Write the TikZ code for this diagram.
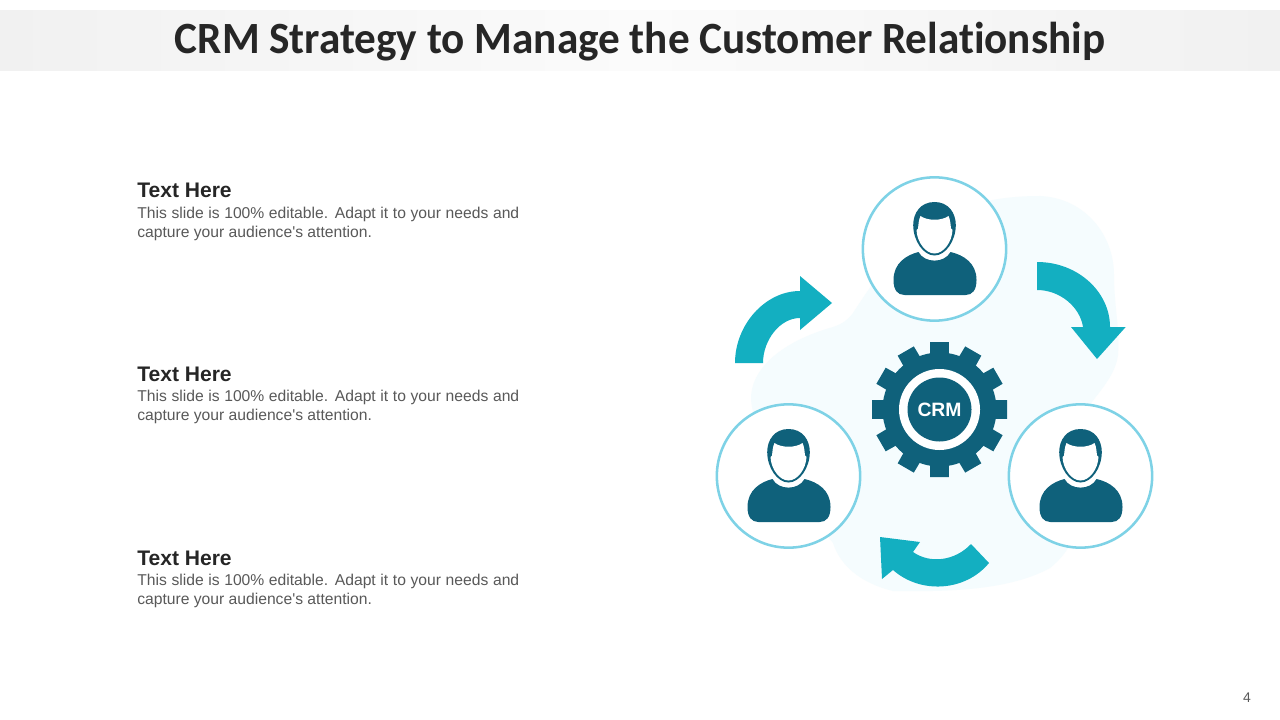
\documentclass[tikz,border=0pt]{standalone}
\usepackage{fontspec}
\newfontfamily\bodyfont{Liberation Sans}
\newfontfamily\titlefont[FakeStretch=0.967,Ligatures=NoCommon]{Carlito}
\setmainfont{Liberation Sans}
\definecolor{deepblue}{HTML}{0F617B}
\definecolor{tealarrow}{HTML}{13AFC1}
\definecolor{ringblue}{HTML}{7ED2E6}
\definecolor{blobtint}{HTML}{F5FCFE}
\definecolor{headdark}{HTML}{262626}
\definecolor{bodygray}{HTML}{595959}
\definecolor{bandedge}{HTML}{F1F1F1}
\definecolor{bandmid}{HTML}{FBFBFB}
\tikzset{
  ringnode/.style={circle,draw=ringblue,line width=1.9pt,fill=white,minimum size=107.5pt,inner sep=0pt,outer sep=0pt},
  headnode/.style={anchor=base west,inner sep=0pt,text=headdark,font=\bodyfont\fontsize{15.8}{18}\selectfont\bfseries},
  bodynode/.style={anchor=north west,inner sep=0pt,text=bodygray,text width=286.5pt,align=justify,font=\bodyfont\fontsize{11.75}{14.6}\selectfont},
  tealshape/.style={fill=tealarrow,draw=none},
  person/.pic={
    \fill[deepblue] (-16,3) .. controls (-28,6) and (-41,14) .. (-41,31)
      .. controls (-41,41) and (-37,46) .. (-30,46) -- (31,46)
      .. controls (38,46) and (42,41) .. (42,31)
      .. controls (42,14) and (29,6) .. (16,3)
      .. controls (10,14.5) and (-10,14.5) .. cycle;
    \fill[deepblue] (0,-47) .. controls (-14,-47) and (-21.3,-36) .. (-21.3,-24)
      .. controls (-21.3,-8) and (-11,6.5) .. (0,6.5)
      .. controls (11,6.5) and (21.3,-8) .. (21.3,-24)
      .. controls (21.3,-36) and (14,-47) .. (0,-47) -- cycle;
    \fill[white] (-14,-33) .. controls (-7,-28) and (7,-28) .. (14,-33)
      .. controls (16,-29) and (16,-24) .. (16.5,-20.5)
      -- (18,-19) .. controls (17.5,-7) and (9,4.5) .. (0,4.5)
      .. controls (-9,4.5) and (-17.5,-7) .. (-18,-19)
      -- (-16.5,-20.5) .. controls (-16,-24) and (-16,-29) .. (-14,-33) -- cycle;
  }
}
\begin{document}
\begin{tikzpicture}[x=0.75pt,y=-0.75pt]
\useasboundingbox (0,0) rectangle (1280,720);
\fill[white] (0,0) rectangle (1280,720);
% title band
\fill[left color=bandedge,right color=bandedge,middle color=bandmid] (0,11) rectangle (1280,71);
\node[anchor=base,inner sep=0pt,text=headdark,font=\titlefont\fontsize{33.5}{40}\selectfont\bfseries] (title) at (640,53.3) {CRM Strategy to Manage the Customer Relationship};
% left texts
\node[headnode] (h1) at (137,197.4) {Text Here};
\node[bodynode] (b1) at (137,206.5) {This slide is 100\% editable. Adapt it to your needs and capture your audience's attention.};
\node[headnode] (h2) at (137,381.4) {Text Here};
\node[bodynode] (b2) at (137,389.5) {This slide is 100\% editable. Adapt it to your needs and capture your audience's attention.};
\node[headnode] (h3) at (137,565.4) {Text Here};
\node[bodynode] (b3) at (137,573.5) {This slide is 100\% editable. Adapt it to your needs and capture your audience's attention.};
% background blob
\fill[blobtint] (853,313) .. controls (900,240) and (940,196) .. (1040,196)
  .. controls (1085,198) and (1114,235) .. (1114,275)
  .. controls (1114,305) and (1120,330) .. (1118,355)
  .. controls (1115,380) and (1090,400) .. (1080,420)
  .. controls (1085,500) and (1085,540) .. (1050,568)
  .. controls (1010,590) and (950,592) .. (893,591)
  .. controls (860,583) and (840,565) .. (833,543)
  .. controls (790,490) and (755,440) .. (751,400)
  .. controls (750,370) and (780,342) .. (833,327)
  .. controls (842,324) and (848,320) .. (853,313) -- cycle;
% person rings
\node[ringnode] (ptop) at (934.5,249) {};
\node[ringnode] (pleft) at (788.5,476) {};
\node[ringnode] (pright) at (1080.5,476) {};
\pic at (ptop) {person};
\pic at (pleft) {person};
\pic at (pright) {person};
% gear
\begin{scope}[shift={(939.5,409.5)}]
  \fill[deepblue] (0,0) circle (57);
  \foreach \a in {0,30,...,330}
    \fill[deepblue,rotate=\a] (-9.3,-67.5) -- (9.3,-67.5) -- (9.6,-45) -- (-9.6,-45) -- cycle;
  \fill[white] (0,0) circle (40.5);
  \fill[deepblue] (0,0) circle (32);
\end{scope}
\node[inner sep=0pt,text=white,font=\fontsize{14.5}{17}\selectfont\bfseries] (crm) at (939.5,410) {CRM};
% arrows
\fill[tealshape] (1037,262) .. controls (1078,262) and (1110,292) .. (1110,327)
  -- (1125.7,327) -- (1097,359) -- (1071,327) -- (1083,327)
  .. controls (1080,307) and (1060,290) .. (1037,290) -- cycle;
\fill[tealshape] (735,363) .. controls (735,325) and (765,291) .. (800,291)
  -- (800,276) -- (832,303) -- (800,330) -- (800,318)
  .. controls (780,318) and (763,340) .. (763,363) -- cycle;
\fill[tealshape] (989,563) .. controls (965,592) and (920,594) .. (893,570)
  -- (882,579) -- (880,537) -- (920,542) -- (913,552)
  .. controls (930,564) and (955,561) .. (971,544) -- cycle;
% page number
\node[inner sep=0pt,text=bodygray,font=\bodyfont\fontsize{10.5}{12}\selectfont] (pagenum) at (1247,698) {4};
\end{tikzpicture}
\end{document}
